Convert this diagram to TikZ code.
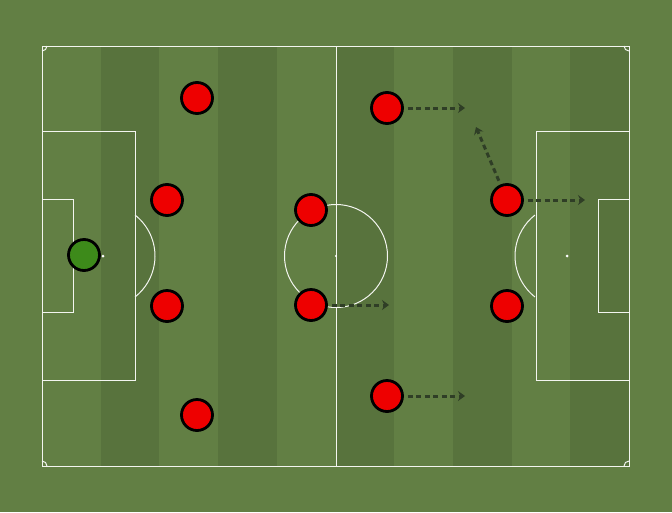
\documentclass[tikz,border=0pt]{standalone}
\usetikzlibrary{arrows.meta}

\definecolor{grass}{HTML}{627F44}
\definecolor{grassdark}{HTML}{58733D}
\definecolor{shirtred}{HTML}{EE0000}
\definecolor{keepergreen}{HTML}{3D8A1A}
\definecolor{runcolor}{HTML}{2F3E26}

\begin{document}
\begin{tikzpicture}[x=1pt, y=-1pt,
    line/.style={white!92!grass, line width=1pt},
    player/.style={circle, draw=black, line width=2.8pt, fill=shirtred, minimum size=31pt, inner sep=0pt},
    keeper/.style={player, fill=keepergreen},
    run/.style={runcolor, line width=3pt, dash pattern=on 5pt off 3.5pt, -{Stealth[length=7pt, width=10pt, inset=2.5pt]}, shorten <=4pt}]

% Grass
\fill[grass] (0, 0) rectangle (672, 512);
\foreach \i in {1,3,5,7,9}
    \fill[grassdark] ({42+\i*58.7}, 46) rectangle ({42+(\i+1)*58.7}, 466);

% Touch lines and halfway line
\draw[line] (42, 46) rectangle (629, 466);
\draw[line] (336, 46) -- (336, 466);

% Centre circle
\draw[line] (336, 256) circle[radius=51.5];
\fill[white] (336, 256) circle[radius=1.2];

% Left box
\draw[line] (42, 131) rectangle (135, 380);
\draw[line] (42, 199) rectangle (73, 312);
\draw[line] (103, 256) ++(-52:52) arc[start angle=-52, end angle=52, radius=52];
\fill[white] (103, 256) circle[radius=1.5];

% Right box
\draw[line] (629, 131) rectangle (536, 380);
\draw[line] (629, 199) rectangle (598, 312);
\draw[line] (567, 256) ++(128:52) arc[start angle=128, end angle=232, radius=52];
\fill[white] (567, 256) circle[radius=1.5];

% Corners
\draw[line] (47, 46) arc[start angle=0, end angle=90, radius=5];
\draw[line] (629, 51) arc[start angle=90, end angle=180, radius=5];
\draw[line] (624, 466) arc[start angle=180, end angle=270, radius=5];
\draw[line] (42, 461) arc[start angle=270, end angle=360, radius=5];

% Players
\node[keeper] (gk) at (84, 255) {};
\node[player] (defA) at (197, 98) {};
\node[player] (defB) at (167, 200) {};
\node[player] (defC) at (167, 306) {};
\node[player] (defD) at (197, 415) {};
\node[player] (midA) at (311, 210) {};
\node[player] (midB) at (311, 305) {};
\node[player] (wingA) at (387, 108) {};
\node[player] (wingB) at (387, 396) {};
\node[player] (fwdA) at (507, 200) {};
\node[player] (fwdB) at (507, 306) {};

% Runs
\coordinate (wingAto) at (465, 108);
\coordinate (midBto) at (389, 305);
\coordinate (wingBto) at (465, 396);
\coordinate (fwdAto) at (585, 200);
\coordinate (fwdAup) at (476, 127);

\draw[run] (wingA) -- (wingAto);
\draw[run] (midB) -- (midBto);
\draw[run] (wingB) -- (wingBto);
\draw[run] (fwdA) -- (fwdAto);
\draw[run] (fwdA) -- (fwdAup);

\end{tikzpicture}
\end{document}
